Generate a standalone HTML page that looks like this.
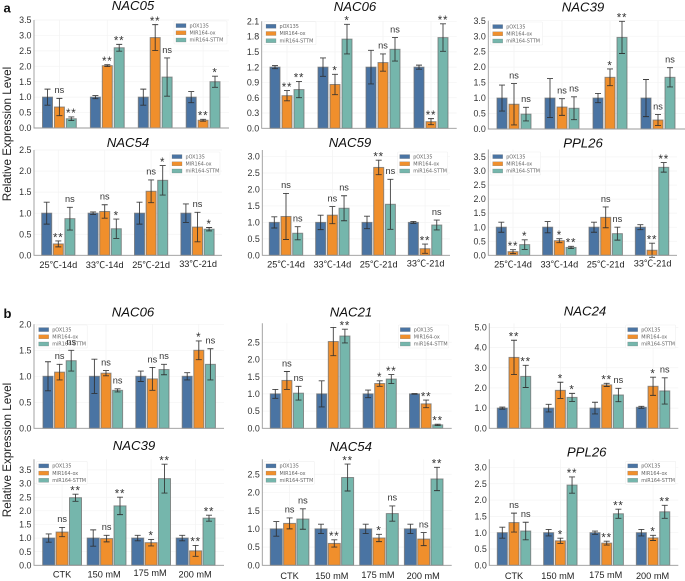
<!DOCTYPE html>
<html lang="en">
<head>
<meta charset="utf-8">
<title>Relative expression of NAC genes</title>
<style>
html,body{margin:0;padding:0;background:#fff;}
svg{display:block;font-family:"Liberation Sans","Noto Sans CJK SC",sans-serif;filter:blur(0.3px);}
</style>
</head>
<body>
<svg id="figure" width="685" height="581" viewBox="0 0 685 581" xmlns="http://www.w3.org/2000/svg">
<rect x="0" y="0" width="685" height="581" fill="#ffffff"/>
<text x="3.5" y="12.5" font-size="13" font-weight="700" fill="#111">a</text>
<text x="3.5" y="318" font-size="13" font-weight="700" fill="#111">b</text>
<text transform="translate(11,134) rotate(-90)" text-anchor="middle" font-size="11.7" fill="#222">Relative Expression Level</text>
<text transform="translate(11,450) rotate(-90)" text-anchor="middle" font-size="11.7" fill="#222">Relative Expression Level</text>
</svg>
<script>
const seriesNames = ['pOX135', 'MIR164-ox', 'miR164-STTM'];
const tempGroups = ['25℃-14d', '33℃-14d', '25℃-21d', '33℃-21d'];
const saltGroups = ['CTK', '150 mM', '175 mM', '200 mM'];

const aNac05Values = [[1, 1, 1, 1], [0.68, 2.02, 2.93, 0.25], [0.3, 2.6, 1.65, 1.5]];
const aNac05Errors = [[0.26, 0.05, 0.26, 0.18], [0.28, 0.03, 0.42, 0.03], [0.06, 0.11, 0.62, 0.18]];
const aNac05Sig = [['', '', '', ''], ['ns', '**', '**', '**'], ['**', '**', 'ns', '*']];
const aNac05Ticks = [0, 0.5, 1, 1.5, 2, 2.5, 3, 3.5];

const aNac06Values = [[1.2, 1.2, 1.2, 1.2], [0.64, 0.86, 1.29, 0.13], [0.76, 1.75, 1.55, 1.78]];
const aNac06Errors = [[0.03, 0.18, 0.33, 0.04], [0.1, 0.2, 0.17, 0.06], [0.16, 0.29, 0.23, 0.27]];
const aNac06Sig = [['', '', '', ''], ['**', '*', 'ns', '**'], ['**', '*', 'ns', '**']];
const aNac06Ticks = [0, 0.3, 0.6, 0.9, 1.2, 1.5, 1.8, 2.1];

const aNac39Values = [[1, 1, 1, 1], [0.8, 0.71, 1.67, 0.29], [0.48, 0.67, 2.96, 1.67]];
const aNac39Errors = [[0.42, 0.63, 0.15, 0.6], [0.67, 0.27, 0.27, 0.18], [0.22, 0.37, 0.52, 0.31]];
const aNac39Sig = [['', '', '', ''], ['ns', 'ns', '*', 'ns'], ['ns', 'ns', '**', 'ns']];
const aNac39Ticks = [0, 0.5, 1, 1.5, 2, 2.5, 3, 3.5];

const aNac54Values = [[1, 1, 1, 1], [0.27, 1.04, 1.52, 0.67], [0.87, 0.63, 1.78, 0.62]];
const aNac54Errors = [[0.26, 0.03, 0.26, 0.22], [0.07, 0.16, 0.27, 0.35], [0.27, 0.23, 0.35, 0.04]];
const aNac54Sig = [['', '', '', ''], ['**', 'ns', 'ns', 'ns'], ['ns', '*', '*', '*']];
const aNac54Ticks = [0, 0.5, 1, 1.5, 2, 2.5];

const aNac59Values = [[1, 1, 1, 1], [1.18, 1.22, 2.67, 0.2], [0.67, 1.43, 1.55, 0.92]];
const aNac59Errors = [[0.17, 0.22, 0.19, 0.03], [0.7, 0.26, 0.22, 0.14], [0.2, 0.38, 0.76, 0.15]];
const aNac59Sig = [['', '', '', ''], ['ns', 'ns', '**', '**'], ['ns', 'ns', 'ns', 'ns']];
const aNac59Ticks = [0, 0.5, 1, 1.5, 2, 2.5, 3];

const aPpl26Values = [[1, 1, 1, 1], [0.13, 0.52, 1.35, 0.18], [0.38, 0.28, 0.77, 3.13]];
const aPpl26Errors = [[0.18, 0.2, 0.18, 0.09], [0.07, 0.07, 0.37, 0.25], [0.17, 0.04, 0.23, 0.17]];
const aPpl26Sig = [['', '', '', ''], ['**', '*', 'ns', '**'], ['*', '**', 'ns', '**']];
const aPpl26Ticks = [0, 0.5, 1, 1.5, 2, 2.5, 3, 3.5];

const bNac06Values = [[1, 1, 1, 1], [1.08, 1.06, 0.95, 1.5], [1.3, 0.73, 1.13, 1.23]];
const bNac06Errors = [[0.28, 0.33, 0.1, 0.07], [0.15, 0.05, 0.22, 0.18], [0.2, 0.03, 0.1, 0.3]];
const bNac06Sig = [['', '', '', ''], ['ns', 'ns', 'ns', '*'], ['ns', 'ns', 'ns', 'ns']];
const bNac06Ticks = [0, 0.5, 1, 1.5, 2];

const bNac21Values = [[1, 1, 1, 1], [1.39, 2.52, 1.3, 0.71], [1.02, 2.68, 1.43, 0.1]];
const bNac21Errors = [[0.13, 0.38, 0.11, 0.01], [0.26, 0.41, 0.08, 0.11], [0.2, 0.2, 0.13, 0.02]];
const bNac21Sig = [['', '', '', ''], ['ns', '', '*', '**'], ['ns', '**', '**', '**']];
const bNac21Ticks = [0, 0.5, 1, 1.5, 2, 2.5];

const bNac24Values = [[1, 1, 1, 1.04], [3.51, 1.88, 2.15, 2.08], [2.57, 1.53, 1.65, 1.85]];
const bNac24Errors = [[0.05, 0.19, 0.29, 0.05], [0.85, 0.4, 0.08, 0.45], [0.55, 0.2, 0.33, 0.65]];
const bNac24Sig = [['', '', '', ''], ['**', '*', '**', '*'], ['**', '*', 'ns', 'ns']];
const bNac24Ticks = [0, 1, 2, 3, 4, 5];

const bNac39Values = [[1, 1, 1, 1], [1.22, 0.98, 0.83, 0.53], [2.48, 2.18, 3.18, 1.73]];
const bNac39Errors = [[0.15, 0.3, 0.1, 0.1], [0.17, 0.12, 0.12, 0.2], [0.13, 0.32, 0.53, 0.11]];
const bNac39Sig = [['', '', '', ''], ['ns', 'ns', '*', '**'], ['**', '**', '**', '**']];
const bNac39Ticks = [0, 0.5, 1, 1.5, 2, 2.5, 3, 3.5];

const bNac54Values = [[1, 1, 1, 1], [1.15, 0.6, 0.75, 0.72], [1.27, 2.41, 1.42, 2.37]];
const bNac54Errors = [[0.2, 0.13, 0.13, 0.13], [0.15, 0.1, 0.1, 0.18], [0.28, 0.37, 0.21, 0.32]];
const bNac54Sig = [['', '', '', ''], ['ns', '**', '*', 'ns'], ['ns', '**', 'ns', '**']];
const bNac54Ticks = [0, 0.5, 1, 1.5, 2, 2.5];

const bPpl26Values = [[1, 1, 1, 1], [1.31, 0.75, 0.68, 0.84], [1.05, 2.46, 1.58, 1.64]];
const bPpl26Errors = [[0.17, 0.1, 0.05, 0.1], [0.29, 0.08, 0.06, 0.08], [0.27, 0.25, 0.14, 0.2]];
const bPpl26Sig = [['', '', '', ''], ['ns', '*', '**', '*'], ['ns', '**', '**', '**']];
const bPpl26Ticks = [0, 0.5, 1, 1.5, 2, 2.5, 3];

const seriesColors = ['#4a74a3', '#f08f2c', '#75b6ac'];

const charts = [
  {id: 'a-nac05', title: 'NAC05', values: aNac05Values, errors: aNac05Errors, sig: aNac05Sig, ticks: aNac05Ticks, groups: null, yMax: 3.5,
   box: {l: 34, r: 229, t: 20, b: 128}, titleX: 133, titleY: 10, first: 47.5, step: 47.9, gap: 11.9, bw: 10, legend: [174, 21, 53]},
  {id: 'a-nac06', title: 'NAC06', values: aNac06Values, errors: aNac06Errors, sig: aNac06Sig, ticks: aNac06Ticks, groups: null, yMax: 2.1,
   box: {l: 261.7, r: 456.7, t: 21.3, b: 128.3}, titleX: 355, titleY: 11, first: 275, step: 48, gap: 12, bw: 10, legend: [264, 21.7, 52]},
  {id: 'a-nac39', title: 'NAC39', values: aNac39Values, errors: aNac39Errors, sig: aNac39Sig, ticks: aNac39Ticks, groups: null, yMax: 3.5,
   box: {l: 488.3, r: 685, t: 20.7, b: 129}, titleX: 583, titleY: 11.7, first: 502, step: 48, gap: 12, bw: 10, legend: [490.7, 22, 52]},
  {id: 'a-nac54', title: 'NAC54', values: aNac54Values, errors: aNac54Errors, sig: aNac54Sig, ticks: aNac54Ticks, groups: tempGroups, yMax: 2.5,
   box: {l: 34, r: 222, t: 150, b: 255.3}, titleX: 128, titleY: 147, first: 46.7, step: 46.4, gap: 11.6, bw: 10, legend: [170, 152, 50], labelY: 268.2},
  {id: 'a-nac59', title: 'NAC59', values: aNac59Values, errors: aNac59Errors, sig: aNac59Sig, ticks: aNac59Ticks, groups: tempGroups, yMax: 3.2,
   box: {l: 262.3, r: 450, t: 150, b: 255.3}, titleX: 350, titleY: 147, first: 274.3, step: 46.35, gap: 11.7, bw: 10, legend: [397.7, 152, 50], labelY: 267.5},
  {id: 'a-ppl26', title: 'PPL26', values: aPpl26Values, errors: aPpl26Errors, sig: aPpl26Sig, ticks: aPpl26Ticks, groups: tempGroups, yMax: 3.765,
   box: {l: 488.3, r: 677, t: 149.5, b: 255.3}, titleX: 583, titleY: 147.7, first: 501.3, step: 46.35, gap: 11.7, bw: 10, legend: [490.7, 152, 50], labelY: 267.5},
  {id: 'b-nac06', title: 'NAC06', values: bNac06Values, errors: bNac06Errors, sig: bNac06Sig, ticks: bNac06Ticks, groups: null, yMax: 2,
   box: {l: 34, r: 224, t: 324.3, b: 428.3}, titleX: 133, titleY: 316.7, first: 48, step: 46.4, gap: 11.6, bw: 10, legend: [36.7, 325, 50.5]},
  {id: 'b-nac21', title: 'NAC21', values: bNac21Values, errors: bNac21Errors, sig: bNac21Sig, ticks: bNac21Ticks, groups: null, yMax: 3.05,
   box: {l: 262.3, r: 451.7, t: 323.3, b: 428.3}, titleX: 351, titleY: 316.7, first: 275.3, step: 46.4, gap: 11.6, bw: 10, legend: [398.3, 325, 50.5]},
  {id: 'b-nac24', title: 'NAC24', values: bNac24Values, errors: bNac24Errors, sig: bNac24Sig, ticks: bNac24Ticks, groups: null, yMax: 5.2,
   box: {l: 489.3, r: 678.3, t: 323.3, b: 428.3}, titleX: 585, titleY: 315.7, first: 502.3, step: 46.35, gap: 11.7, bw: 10, legend: [625.7, 325, 50]},
  {id: 'b-nac39', title: 'NAC39', values: bNac39Values, errors: bNac39Errors, sig: bNac39Sig, ticks: bNac39Ticks, groups: saltGroups, yMax: 3.89,
   box: {l: 34, r: 224, t: 459.3, b: 565.3}, titleX: 134, titleY: 450, first: 48.7, step: 44.5, gap: 13.4, bw: 12, legend: [36.7, 461.3, 50.5], labelY: 577.3},
  {id: 'b-nac54', title: 'NAC54', values: bNac54Values, errors: bNac54Errors, sig: bNac54Sig, ticks: bNac54Ticks, groups: saltGroups, yMax: 2.91,
   box: {l: 262.3, r: 451.7, t: 459.3, b: 565.3}, titleX: 350.7, titleY: 451, first: 276.3, step: 44.7, gap: 13.3, bw: 12, legend: [264, 461.3, 50.3], labelY: 579},
  {id: 'b-ppl26', title: 'PPL26', values: bPpl26Values, errors: bPpl26Errors, sig: bPpl26Sig, ticks: bPpl26Ticks, groups: saltGroups, yMax: 3.25,
   box: {l: 489.3, r: 678.3, t: 459.3, b: 565.3}, titleX: 586.7, titleY: 456.7, first: 502.3, step: 46.35, gap: 11.7, bw: 10, legend: [625.7, 461.3, 50], labelY: 579}
];

const svgNS = 'http://www.w3.org/2000/svg';
const figure = document.getElementById('figure');

function make(parent, tag, props, text) {
  const node = document.createElementNS(svgNS, tag);
  for (const key in props) node.setAttribute(key, props[key]);
  if (text !== undefined) node.textContent = text;
  parent.appendChild(node);
  return node;
}

charts.forEach(function (c) {
  const xBar = function (g, s) { return c.first + g * c.step + s * c.gap; };
  const yVal = function (v) { return c.box.b - (v / c.yMax) * (c.box.b - c.box.t); };

  const group = make(figure, 'g', {});
  
  

  c.ticks.forEach(function (t) {
    const grid = make(group, 'line', {x1: c.box.l, x2: c.box.r, y1: yVal(t), y2: yVal(t), stroke: '#f3f3f3', 'stroke-width': 0.7});
    
    
  });
  c.values[0].forEach(function (_, g) {
    const grid = make(group, 'line', {x1: xBar(g, 1), x2: xBar(g, 1), y1: c.box.t, y2: c.box.b, stroke: '#f3f3f3', 'stroke-width': 0.7});
    
    
  });

  c.values.forEach(function (series, s) {
    series.forEach(function (v, g) {
      const bar = make(group, 'rect', {
        x: xBar(g, s) - c.bw / 2, y: yVal(v), width: c.bw, height: c.box.b - yVal(v),
        fill: seriesColors[s], stroke: '#6f6f6f', 'stroke-opacity': 0.75, 'stroke-width': 1
      });
      
      
    });
  });

  c.errors.forEach(function (series, s) {
    series.forEach(function (e, g) {
      const v = c.values[s][g];
      const x = xBar(g, s);
      const path = 'M' + x + ' ' + yVal(v - e) + 'V' + yVal(v + e) +
        'M' + (x - 3) + ' ' + yVal(v - e) + 'H' + (x + 3) +
        'M' + (x - 3) + ' ' + yVal(v + e) + 'H' + (x + 3);
      const err = make(group, 'path', {d: path, fill: 'none', stroke: '#2c2c2c', 'stroke-opacity': 0.9, 'stroke-width': 0.9});
      
      
    });
  });

  const spine = make(group, 'path', {d: 'M' + c.box.l + ' ' + c.box.t + 'V' + c.box.b + 'H' + c.box.r, fill: 'none', stroke: '#9a9a9a', 'stroke-width': 0.9});
  
  

  c.ticks.forEach(function (t) {
    const label = make(group, 'text', {x: c.box.l - 2.5, y: yVal(t) + 3.1, 'text-anchor': 'end', 'font-size': 8.9, fill: '#333'}, t.toFixed(1));
    
    
  });

  if (c.groups) {
    c.groups.forEach(function (name, g) {
      const shift = c.groups === saltGroups ? [0, -2.5, -1, -0.5][g] : [0, 0, 0, 0.6][g];
      const lift = g === (c.groups === saltGroups ? 2 : 3) ? 1.2 : 0;
      const label = make(group, 'text', {x: xBar(g, 1) + shift, y: c.labelY - lift, 'text-anchor': 'middle', 'font-size': 9.2, fill: '#222'}, name);
      
      
    });
  }

  const title = make(group, 'text', {x: c.titleX, y: c.titleY, 'text-anchor': 'middle', 'font-size': 13.2, 'font-style': 'italic', fill: '#111'}, c.title);
  
  

  const legend = make(group, 'g', {});
  
  
  const lx = c.legend[0], ly = c.legend[1], lw = c.legend[2];
  const frame = make(legend, 'rect', {x: lx, y: ly, width: lw, height: 23, rx: 1, fill: '#ffffff', 'fill-opacity': 0.85, stroke: '#efefef', 'stroke-width': 0.6});
  
  
  seriesNames.forEach(function (name, s) {
    const cy = ly + 4.6 + s * 7.2;
    const swatch = make(legend, 'rect', {x: lx + 2, y: cy - 2, width: 10, height: 4, fill: seriesColors[s], stroke: '#6f6f6f', 'stroke-opacity': 0.6, 'stroke-width': 0.4});
    
    
    const entry = make(legend, 'text', {x: lx + 15.5, y: cy + 1.7, 'font-size': 4.9, 'font-family': '"DejaVu Sans", sans-serif', fill: '#666'}, name);
    
    
  });

  c.sig.forEach(function (series, s) {
    series.forEach(function (mark, g) {
      if (!mark) return;
      const top = yVal(c.values[s][g] + c.errors[s][g]);
      const isNs = mark === 'ns';
      const label = make(group, 'text', {
        x: xBar(g, s), y: isNs ? top - 5.2 : top + 0.3, 'text-anchor': 'middle',
        'font-size': isNs ? 9.2 : 11.5, 'letter-spacing': isNs ? 0 : 0.8, fill: '#333'
      }, mark);
      
      
    });
  });
});
</script>
</body>
</html>
